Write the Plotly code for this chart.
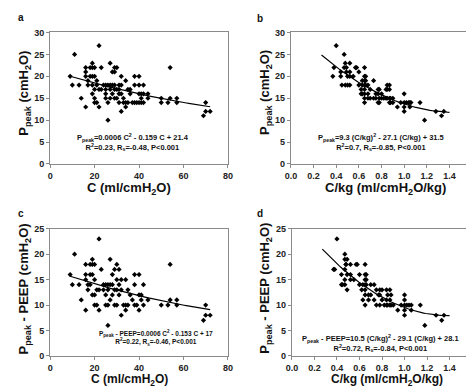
import plotly.graph_objects as go

# ---------------- data ----------------
# Panel a: Ppeak vs C
a_C = [9, 10, 11, 13, 14, 16, 16, 16, 16, 17, 17, 18, 18, 19, 19, 19, 19, 19,
       20, 20, 20, 20, 20, 21, 21, 21, 22, 22, 22, 23, 23, 24, 25, 25, 25, 25,
       26, 26, 26, 27, 27, 27, 27, 28, 28, 28, 29, 29, 29, 29, 29, 30, 30, 30,
       31, 31, 31, 31, 32, 32, 32, 32, 33, 33, 34, 34, 34, 35, 35, 36, 36, 37,
       38, 38, 38, 39, 40, 40, 40, 40, 41, 41, 41, 42, 42, 42, 44, 44, 50, 50,
       53, 54, 54, 57, 57, 69, 70, 70, 72]
a_P = [20, 18, 25, 18, 15, 13, 22, 21, 20, 19, 18, 20, 22, 22, 23, 20, 18, 16,
       22, 20, 17, 15, 14, 19, 18, 14, 27, 17, 13, 22, 17, 18, 18, 17, 16, 15,
       18, 14, 10, 23, 18, 17, 15, 21, 18, 16, 21, 22, 18, 17, 15, 22, 17, 15,
       18, 17, 16, 14, 18, 20, 12, 16, 15, 14, 14, 19, 13, 17, 14, 17, 16, 14,
       20, 18, 14, 14, 20, 18, 16, 14, 16, 15, 14, 18, 16, 14, 16, 15, 15, 14,
       14, 22, 15, 15, 14, 11, 14, 12, 12]

# Panel b: Ppeak vs C/kg
b_Ckg = [0.37, 0.38, 0.40, 0.44, 0.44, 0.45, 0.47, 0.47, 0.48, 0.48, 0.49, 0.49,
         0.50, 0.50, 0.52, 0.52, 0.52, 0.52, 0.55, 0.57, 0.58, 0.60, 0.60, 0.62,
         0.62, 0.63, 0.63, 0.63, 0.65, 0.65, 0.65, 0.65, 0.65, 0.65, 0.65, 0.65,
         0.66, 0.66, 0.66, 0.68, 0.68, 0.68, 0.70, 0.70, 0.73, 0.73, 0.75, 0.75,
         0.77, 0.77, 0.77, 0.78, 0.78, 0.78, 0.80, 0.80, 0.82, 0.84, 0.84, 0.85,
         0.85, 0.85, 0.87, 0.87, 0.87, 0.87, 0.88, 0.88, 0.90, 0.90, 0.94, 0.97,
         1.00, 1.00, 1.00, 1.00, 1.02, 1.04, 1.05, 1.05, 1.06, 1.14, 1.18, 1.28,
         1.33, 1.35]
b_P = [20, 22, 27, 21, 20, 18, 25, 22, 23, 18, 22, 21, 20, 18, 23, 21, 20, 18,
       20, 22, 22, 21, 18, 17, 16, 19, 18, 16, 22, 20, 19, 18, 17, 16, 15, 14,
       20, 19, 18, 18, 16, 15, 17, 15, 19, 15, 16, 15, 17, 16, 14, 17, 15, 14,
       16, 15, 15, 17, 15, 18, 17, 15, 18, 17, 15, 14, 15, 14, 15, 14, 13, 14,
       16, 14, 13, 12, 14, 14, 14, 13, 14, 14, 10, 12, 11, 12]

# Panel c: Ppeak - PEEP vs C
c_C = [9, 10, 11, 13, 14, 16, 16, 16, 16, 17, 17, 18, 18, 18, 19, 19, 19, 19,
       20, 20, 20, 20, 21, 21, 22, 22, 22, 23, 24, 24, 25, 25, 25, 26, 26, 26,
       26, 27, 27, 27, 28, 28, 28, 29, 29, 29, 30, 30, 30, 30, 31, 31, 31, 32,
       32, 32, 33, 34, 34, 34, 35, 35, 36, 37, 38, 38, 38, 39, 40, 40, 40, 41,
       41, 42, 42, 44, 50, 53, 54, 54, 57, 57, 69, 70, 70, 72]
c_P = [16, 14, 20, 14, 11, 9, 18, 16, 15, 14, 13, 18, 16, 14, 19, 18, 16, 12,
       18, 15, 12, 10, 13, 10, 23, 13, 9, 17, 14, 13, 14, 12, 10, 14, 13, 10,
       6, 19, 14, 11, 16, 14, 12, 17, 13, 10, 18, 15, 13, 10, 17, 14, 12, 15,
       8, 13, 10, 15, 10, 9, 13, 10, 12, 11, 16, 14, 10, 10, 16, 12, 9, 12,
       11, 14, 10, 11, 10, 10, 18, 11, 11, 10, 7, 10, 8, 8]

# Panel d: Ppeak - PEEP vs C/kg
d_Ckg = [0.37, 0.38, 0.40, 0.44, 0.44, 0.45, 0.47, 0.47, 0.48, 0.48, 0.47, 0.47,
         0.47, 0.49, 0.49, 0.49, 0.52, 0.52, 0.52, 0.55, 0.57, 0.58, 0.60, 0.60,
         0.62, 0.63, 0.63, 0.65, 0.65, 0.65, 0.65, 0.65, 0.65, 0.65, 0.66, 0.66,
         0.66, 0.68, 0.68, 0.70, 0.70, 0.73, 0.73, 0.75, 0.75, 0.77, 0.78, 0.78,
         0.78, 0.80, 0.80, 0.82, 0.84, 0.84, 0.84, 0.85, 0.85, 0.87, 0.87, 0.87,
         0.88, 0.88, 0.90, 0.94, 0.97, 1.00, 1.00, 1.00, 1.00, 1.00, 1.02, 1.04,
         1.06, 1.06, 1.14, 1.18, 1.28, 1.33, 1.35]
d_P = [17, 17, 23, 16, 14, 14, 20, 19, 18, 18, 17, 15, 14, 19, 16, 13, 18, 16,
       15, 15, 18, 18, 16, 14, 13, 14, 11, 18, 16, 15, 14, 13, 12, 10, 16, 15,
       14, 12, 11, 14, 12, 14, 11, 13, 10, 12, 13, 12, 10, 13, 11, 10, 13, 11,
       10, 12, 10, 13, 11, 10, 12, 10, 10, 9, 10, 12, 11, 10, 9, 8, 10, 10,
       10, 9, 10, 6, 8, 7, 8]

# Fitted quadratic curves as printed in the chart (c2, c1, c0) and fit ranges
a_fit = [0.0006, -0.159, 21.4]
b_fit = [9.3, -27.1, 31.5]
c_fit = [0.0006, -0.153, 17.0]
d_fit = [10.5, -29.1, 28.1]
a_fit_range = [9, 72]
b_fit_range = [0.27, 1.40]
c_fit_range = [9, 72]
d_fit_range = [0.27, 1.40]

x_ticks_C = [0, 20, 40, 60, 80]
x_ticks_Ckg = [0.0, 0.2, 0.4, 0.6, 0.8, 1.0, 1.2, 1.4, 1.6]
y_ticks_top = [0, 5, 10, 15, 20, 25, 30]
y_ticks_bot = [0, 5, 10, 15, 20, 25]


def fit_curve(coef, rng, n=60):
    xs = [rng[0] + (rng[1] - rng[0]) * i / (n - 1) for i in range(n)]
    ys = [coef[0] * x * x + coef[1] * x + coef[2] for x in xs]
    return xs, ys


W, H = 474, 387
FONT = "Liberation Sans, Arial, sans-serif"

fig = go.Figure()

panels = [
    (a_C, a_P, a_fit, a_fit_range, "x", "y"),
    (b_Ckg, b_P, b_fit, b_fit_range, "x2", "y2"),
    (c_C, c_P, c_fit, c_fit_range, "x3", "y3"),
    (d_Ckg, d_P, d_fit, d_fit_range, "x4", "y4"),
]
for xs, ys, coef, rng, xa, ya in panels:
    fig.add_trace(go.Scatter(x=xs, y=ys, mode="markers", xaxis=xa, yaxis=ya,
                             marker=dict(symbol="diamond", size=4, color="black",
                                         line=dict(width=0)),
                             showlegend=False, hoverinfo="skip"))
    fx, fy = fit_curve(coef, rng)
    fig.add_trace(go.Scatter(x=fx, y=fy, mode="lines", xaxis=xa, yaxis=ya,
                             line=dict(color="black", width=1.2),
                             showlegend=False, hoverinfo="skip"))


def px_x(p):
    return p / W


def px_y(p):
    return 1 - p / H


axis_common = dict(showline=True, mirror=True, linecolor="#8a8a8a", linewidth=1,
                   ticks="outside", ticklen=3, tickcolor="#8a8a8a", showgrid=False,
                   zeroline=False,
                   tickfont=dict(family=FONT, size=9, color="#222222", weight="bold"))

fig.update_layout(
    width=W, height=H, margin=dict(l=0, r=0, t=0, b=0),
    paper_bgcolor="white", plot_bgcolor="white",
    xaxis=dict(domain=[px_x(37), px_x(219)], range=[0, 80], tickvals=x_ticks_C,
               anchor="y", **axis_common),
    yaxis=dict(domain=[px_y(155), px_y(20)], range=[0, 30], tickvals=y_ticks_top,
               anchor="x", **axis_common),
    xaxis2=dict(domain=[px_x(283.5), px_x(469)], range=[0, 1.6], tickvals=x_ticks_Ckg,
                tickformat=".1f", anchor="y2", **axis_common),
    yaxis2=dict(domain=[px_y(155), px_y(20)], range=[0, 30], tickvals=y_ticks_top,
                anchor="x2", **axis_common),
    xaxis3=dict(domain=[px_x(37), px_x(219)], range=[0, 80], tickvals=x_ticks_C,
                anchor="y3", **axis_common),
    yaxis3=dict(domain=[px_y(352), px_y(221.5)], range=[0, 25], tickvals=y_ticks_bot,
                anchor="x3", **axis_common),
    xaxis4=dict(domain=[px_x(284.5), px_x(469)], range=[0, 1.6], tickvals=x_ticks_Ckg,
                tickformat=".1f", anchor="y4", **axis_common),
    yaxis4=dict(domain=[px_y(352), px_y(221.5)], range=[0, 25], tickvals=y_ticks_bot,
                anchor="x4", **axis_common),
)

ann = []


def add_text(text, x, y, size, angle=0, xanchor="center", yanchor="middle"):
    ann.append(dict(text=text, x=px_x(x), y=px_y(y), xref="paper", yref="paper",
                    showarrow=False, textangle=angle, xanchor=xanchor, yanchor=yanchor,
                    font=dict(family=FONT, size=size, color="#111111", weight="bold")))


# panel letters
add_text("a", 2, 5, 10, xanchor="left")
add_text("b", 247, 6, 10, xanchor="left")
add_text("c", 2, 206, 10, xanchor="left")
add_text("d", 247, 206, 10, xanchor="left")

# axis titles
add_text("C (ml/cmH<sub>2</sub>O)", 118, 180, 13)
add_text("C/kg (ml/cmH<sub>2</sub>O/kg)", 380, 180, 13)
add_text("C (ml/cmH<sub>2</sub>O)", 118, 376.5, 12)
add_text("C/kg (ml/cmH<sub>2</sub>O/kg)", 382, 376.5, 12)
add_text("P<sub>peak</sub> (cmH<sub>2</sub>O)", 11, 82, 13, angle=-90)
add_text("P<sub>peak</sub> (cmH<sub>2</sub>O)", 258, 82, 13, angle=-90)
add_text("P<sub>peak</sub> - PEEP (cmH<sub>2</sub>O)", 11, 283, 13, angle=-90)
add_text("P<sub>peak</sub> - PEEP (cmH<sub>2</sub>O)", 258, 283, 13, angle=-90)

# equations (two lines each)
add_text("P<sub>peak</sub>=0.0006 C<sup>2</sup> - 0.159 C + 21.4<br>"
         "R<sup>2</sup>=0.23, R<sub>s</sub>=-0.48, P<0.001", 122, 132, 7.5)
add_text("P<sub>peak</sub>=9.3 (C/kg)<sup>2</sup> - 27.1 (C/kg) + 31.5<br>"
         "R<sup>2</sup>=0.7, R<sub>s</sub>=-0.85, P<0.001", 376, 132, 7.5)
add_text("P<sub>peak</sub> - PEEP=0.0006 C<sup>2</sup> - 0.153 C + 17<br>"
         "R<sup>2</sup>=0.22, R<sub>s</sub>=-0.46, P<0.001", 145, 334, 6.5)
add_text("P<sub>peak</sub> - PEEP=10.5 (C/kg)<sup>2</sup> - 29.1 (C/kg) + 28.1<br>"
         "R<sup>2</sup>=0.72, R<sub>s</sub>=-0.84, P<0.001", 375, 338.5, 7.5)

fig.update_layout(annotations=ann)
fig.write_html("out.html")
